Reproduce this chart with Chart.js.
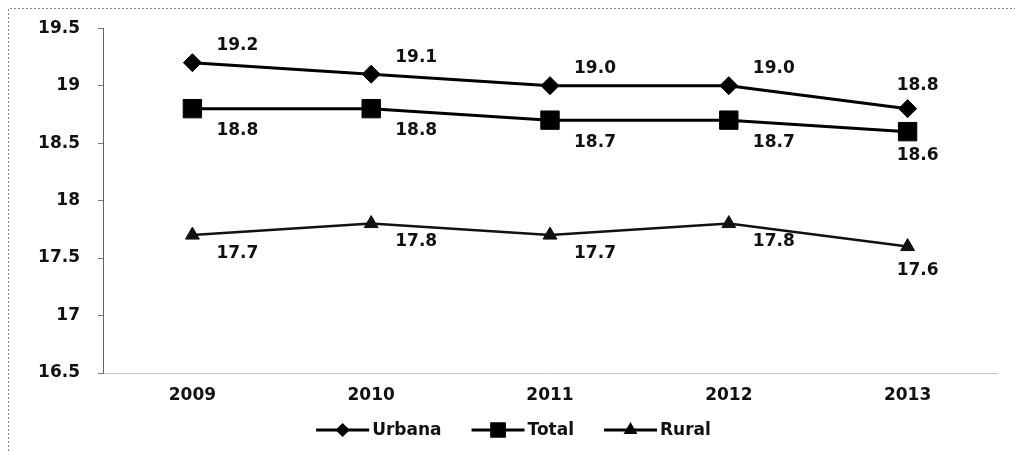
<!DOCTYPE html>
<html lang="es">
<head>
    <meta charset="UTF-8">
    <title>Urbana / Total / Rural</title>
    <script src="https://cdn.jsdelivr.net/npm/chart.js"></script>
    <style>
        html, body { margin: 0; padding: 0; background: #fff; }
        .grafica { width: 1015px; height: 451px; }
    </style>
</head>
<body>
    <div class="grafica">
        <canvas id="chartEdad"></canvas>
    </div>

    <script>
        // Datos
        const anios = ['2009', '2010', '2011', '2012', '2013'];
        const urbana = [19.2, 19.1, 19.0, 19.0, 18.8];
        const total = [18.8, 18.8, 18.7, 18.7, 18.6];
        const rural = [17.7, 17.8, 17.7, 17.8, 17.6];
        const yMin = 16.5, yMax = 19.5, yPaso = 0.5;

        const fuente = 'bold 17px "DejaVu Sans", sans-serif';

        // Marco punteado del grafico (izquierda y arriba)
        const marco = {
            id: 'marco',
            beforeDraw(chart) {
                const ctx = chart.ctx;
                ctx.save();
                ctx.fillStyle = '#fff';
                ctx.fillRect(0, 0, chart.width, chart.height);
                ctx.strokeStyle = '#888';
                ctx.lineWidth = 1;
                ctx.setLineDash([2, 2]);
                ctx.beginPath();
                ctx.moveTo(8.5, chart.height);
                ctx.lineTo(8.5, 8.5);
                ctx.lineTo(chart.width, 8.5);
                ctx.stroke();
                ctx.restore();
            }
        };

        // Etiquetas de datos junto a cada punto
        const etiquetas = {
            id: 'etiquetas',
            afterDatasetsDraw(chart) {
                const ctx = chart.ctx;
                ctx.save();
                ctx.font = fuente;
                ctx.fillStyle = '#111';
                ctx.textAlign = 'center';
                ctx.textBaseline = 'middle';
                chart.data.datasets.forEach((ds, i) => {
                    const meta = chart.getDatasetMeta(i);
                    meta.data.forEach((pt, j) => {
                        const ultimo = j === meta.data.length - 1;
                        const dx = ultimo ? 10 : 45;
                        let dy = ds.etiquetaDy;
                        if (ultimo) dy = dy < 0 ? -23 : 24;
                        ctx.fillText(ds.data[j].toFixed(1), pt.x + dx, pt.y + dy);
                    });
                });
                ctx.restore();
            }
        };

        // Leyenda abajo: linea con marcador y texto
        const leyenda = {
            id: 'leyenda',
            afterDraw(chart) {
                const ctx = chart.ctx;
                const largoLinea = 53, separacion = 30, y = 430;
                ctx.save();
                ctx.font = fuente;
                const anchos = chart.data.datasets.map(ds => ctx.measureText(ds.label).width);
                const totalAncho = anchos.reduce((a, w) => a + largoLinea + 3 + w, 0) + separacion * (anchos.length - 1);
                let x = chart.width / 2 + 6 - totalAncho / 2;
                chart.data.datasets.forEach((ds, i) => {
                    ctx.strokeStyle = '#000';
                    ctx.lineWidth = 3;
                    ctx.beginPath();
                    ctx.moveTo(x, y);
                    ctx.lineTo(x + largoLinea, y);
                    ctx.stroke();
                    Chart.helpers.drawPoint(ctx, {
                        pointStyle: ds.pointStyle,
                        radius: ds.radioLeyenda,
                        borderWidth: 1,
                        rotation: 0
                    }, x + largoLinea / 2, y);
                    ctx.fillStyle = '#000';
                    ctx.fill();
                    ctx.fillStyle = '#111';
                    ctx.textAlign = 'left';
                    ctx.textBaseline = 'middle';
                    ctx.fillText(ds.label, x + largoLinea + 3, y + 1);
                    x += largoLinea + 3 + anchos[i] + separacion;
                });
                ctx.restore();
            }
        };

        const ctxEdad = document.getElementById('chartEdad').getContext('2d');
        const chartEdad = new Chart(ctxEdad, {
            type: 'line',
            data: {
                labels: anios,
                datasets: [
                    {
                        label: 'Urbana',
                        data: urbana,
                        borderColor: '#000',
                        backgroundColor: '#000',
                        borderWidth: 3,
                        pointStyle: 'rectRot',
                        pointRadius: 9,
                        pointBorderWidth: 1,
                        radioLeyenda: 5,
                        etiquetaDy: -17
                    },
                    {
                        label: 'Total',
                        data: total,
                        borderColor: '#000',
                        backgroundColor: '#000',
                        borderWidth: 3,
                        pointStyle: 'rect',
                        pointRadius: 13,
                        pointBorderWidth: 1,
                        radioLeyenda: 9,
                        etiquetaDy: 22
                    },
                    {
                        label: 'Rural',
                        data: rural,
                        borderColor: '#111',
                        backgroundColor: '#111',
                        borderWidth: 2.5,
                        pointStyle: 'triangle',
                        pointRadius: 8,
                        pointBorderWidth: 1,
                        radioLeyenda: 5,
                        etiquetaDy: 18
                    }
                ]
            },
            options: {
                responsive: true,
                maintainAspectRatio: false,
                animation: false,
                layout: {
                    padding: { top: 24, right: 18, bottom: 38, left: 0 }
                },
                plugins: {
                    legend: { display: false },
                    tooltip: { enabled: false }
                },
                scales: {
                    x: {
                        offset: true,
                        grid: { color: 'transparent', drawTicks: false },
                        border: { color: '#c8c8c8', dash: [2, 7], width: 1 },
                        ticks: {
                            color: '#111',
                            font: { family: '"DejaVu Sans", sans-serif', size: 17, weight: 'bold' },
                            padding: 12
                        },
                        afterFit(scale) { scale.height = 40; }
                    },
                    y: {
                        min: yMin,
                        max: yMax,
                        grid: { drawOnChartArea: false, color: '#777', tickLength: 5 },
                        border: { color: '#666', width: 1 },
                        ticks: {
                            stepSize: yPaso,
                            color: '#111',
                            font: { family: '"DejaVu Sans", sans-serif', size: 17, weight: 'bold' },
                            padding: 18,
                            callback: valor => String(valor)
                        },
                        afterFit(scale) { scale.width = 103; }
                    }
                }
            },
            plugins: [marco, etiquetas, leyenda]
        });
    </script>
</body>
</html>
